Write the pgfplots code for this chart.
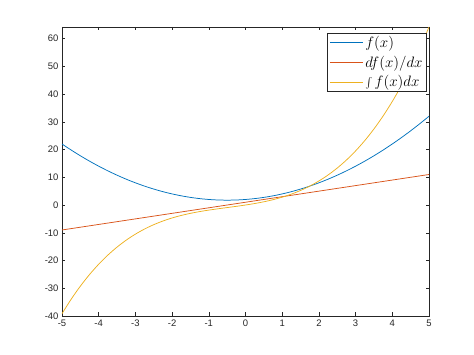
\documentclass[border=0pt]{standalone}
\usepackage{pgfplots}
\pgfplotsset{compat=1.18}
\usepackage{graphicx}
\usepackage{fontspec}
\setmainfont{Liberation Sans}
\definecolor{mblue}{rgb}{0,0.447,0.741}
\definecolor{mred}{rgb}{0.85,0.325,0.098}
\definecolor{myellow}{rgb}{0.929,0.694,0.125}
\definecolor{axgray}{rgb}{0.15,0.15,0.15}
\pgfplotstableread{
x f F
-5 22 -39.1667
-4.75 19.8125 -33.9427
-4.5 17.75 -29.25
-4.25 15.8125 -25.0573
-4 14 -21.3333
-3.75 12.3125 -18.0469
-3.5 10.75 -15.1667
-3.25 9.3125 -12.6615
-3 8 -10.5
-2.75 6.8125 -8.6510
-2.5 5.75 -7.0833
-2.25 4.8125 -5.7656
-2 4 -4.6667
-1.75 3.3125 -3.7552
-1.5 2.75 -3
-1.25 2.3125 -2.3698
-1 2 -1.8333
-0.75 1.8125 -1.3594
-0.5 1.75 -0.9167
-0.25 1.8125 -0.4740
0 2 0
0.25 2.3125 0.5365
0.5 2.75 1.1667
0.75 3.3125 1.9219
1 4 2.8333
1.25 4.8125 3.9323
1.5 5.75 5.25
1.75 6.8125 6.8177
2 8 8.6667
2.25 9.3125 10.8281
2.5 10.75 13.3333
2.75 12.3125 16.2135
3 14 19.5
3.25 15.8125 23.2240
3.5 17.75 27.4167
3.75 19.8125 32.1094
4 22 37.3333
4.25 24.3125 43.1198
4.5 26.75 49.5
4.75 29.3125 56.5052
5 32 64.1667
}\datatable
\newcommand{\legtxt}[1]{\scalebox{1.05}{\Large$#1$}}
\begin{document}
\begin{tikzpicture}
\begin{axis}[
  scale only axis,
  width=367bp, height=289bp,
  xmin=-5, xmax=5, ymin=-40, ymax=64.1667,
  xtick={-5,-4,...,5},
  ytick={-40,-30,...,60},
  tick align=inside,
  major tick length=3.5bp,
  axis line style={axgray, line width=0.5pt},
  every tick/.style={axgray, line width=0.5pt},
  tick label style={font=\fontsize{9.5}{11}\selectfont, text=axgray},
  /pgf/number format/assume math mode=true,
  legend style={at={(0.994,0.979)}, anchor=north east, draw=axgray, line width=0.4pt,
    inner xsep=2pt, inner ysep=0.8pt, row sep=3pt},
  legend cell align=left,
  legend image code/.code={\draw[#1] (0bp,0bp) -- (33bp,0bp);},
]
\addplot[mblue, line width=0.75pt, smooth] table[x=x, y=f] {\datatable};
\addlegendentry{\legtxt{f(x)}}
\addplot[mred, line width=0.75pt] coordinates {(-5,-9) (5,11)};
\addlegendentry{\legtxt{df(x)/dx}}
\addplot[myellow, line width=0.75pt, smooth] table[x=x, y=F] {\datatable};
\addlegendentry{\legtxt{\int f(x)dx}}
\end{axis}
\path (current axis.south west) -- ++(-62bp,-39bp);
\path (current axis.north east) -- ++(45bp,27bp);
\end{tikzpicture}
\end{document}
